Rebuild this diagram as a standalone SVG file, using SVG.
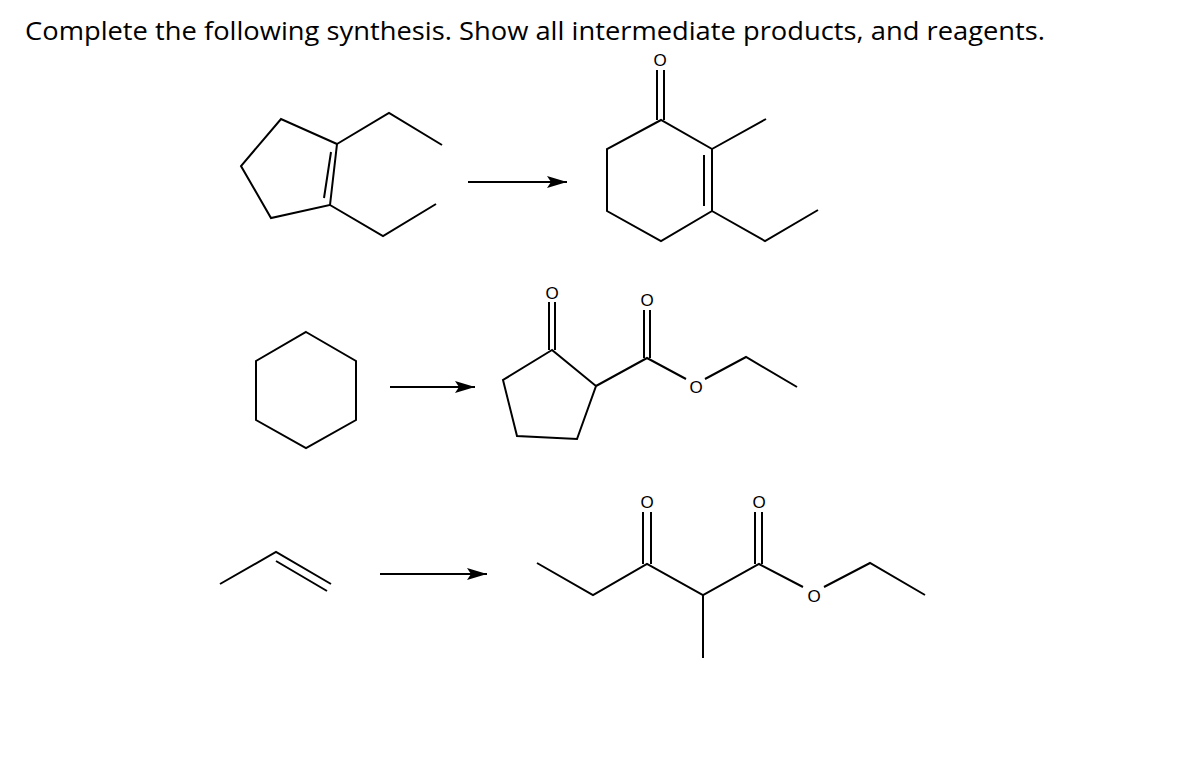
<svg xmlns="http://www.w3.org/2000/svg" width="1185" height="779" viewBox="0 0 1185 779">
<style>
.b{stroke:#000;stroke-width:2;fill:none;stroke-linejoin:miter}
.o{font-family:"Liberation Sans",Arial,sans-serif;font-size:17px;text-anchor:middle;dominant-baseline:central}
.t{font-family:"Open Sans","Liberation Sans",sans-serif;font-size:26px;font-weight:500}
</style>
<defs><marker id="ah" markerWidth="20" markerHeight="12" refX="20" refY="6" orient="auto" markerUnits="userSpaceOnUse"><path d="M0,0 L20,6 L0,12 L4,6 Z" fill="#000"/></marker></defs>
<rect width="1185" height="779" fill="#fff"/>
<text class="t" x="25" y="40" textLength="1020" lengthAdjust="spacingAndGlyphs">Complete the following synthesis. Show all intermediate products, and reagents.</text>
<g id="m1a"><path class="b" d="M337,144 L281,119 L241,166 L271,218 L330,205 Z M337,144 L389,113 L442,145 M330,205 L383,236 L436,204 M331,152 L324,198"/></g>
<g id="m1b"><path class="b" d="M661,120 L607,149 L607,211 L661,241 L712,211 L712,149 Z M712,149 L766,119 M704,155 L704,206 M712,211 L765,241 L818,210 M657,120 L657,70 M664,120 L664,70"/><text class="o" x="660" y="60">O</text></g>
<g id="m2a"><path class="b" d="M306,332 L356,361 L356,420 L306,448 L256,420 L256,361 Z"/></g>
<g id="m2b"><path class="b" d="M552,350 L503,380 L517,436 L577,439 L596,386 Z M596,386 L647,358 L686,379 M705,379 L746,357 L797,387 M549,350 L549,302 M555,350 L555,302 M644,358 L644,310 M650,358 L650,310"/><text class="o" x="552" y="293">O</text><text class="o" x="647" y="300">O</text><text class="o" x="696" y="387">O</text></g>
<g id="m3a"><path class="b" d="M220,584 L276,552 L331,584 M276,561 L327,591"/></g>
<g id="m3b"><path class="b" d="M537,563 L593,595 L647,564 L703,595 L759,564 L803,587 M824,587 L870,563 L925,595 M703,595 L703,658 M643,564 L643,512 M651,564 L651,512 M755,564 L755,512 M762,564 L762,512"/><text class="o" x="647" y="502">O</text><text class="o" x="759" y="502">O</text><text class="o" x="814" y="596">O</text></g>
<g id="connectors" stroke="#000" stroke-width="2">
<line x1="468" y1="182" x2="567" y2="182" marker-end="url(#ah)"/>
<line x1="390" y1="387" x2="475" y2="387" marker-end="url(#ah)"/>
<line x1="380" y1="574" x2="487" y2="574" marker-end="url(#ah)"/>
</g>
</svg>
